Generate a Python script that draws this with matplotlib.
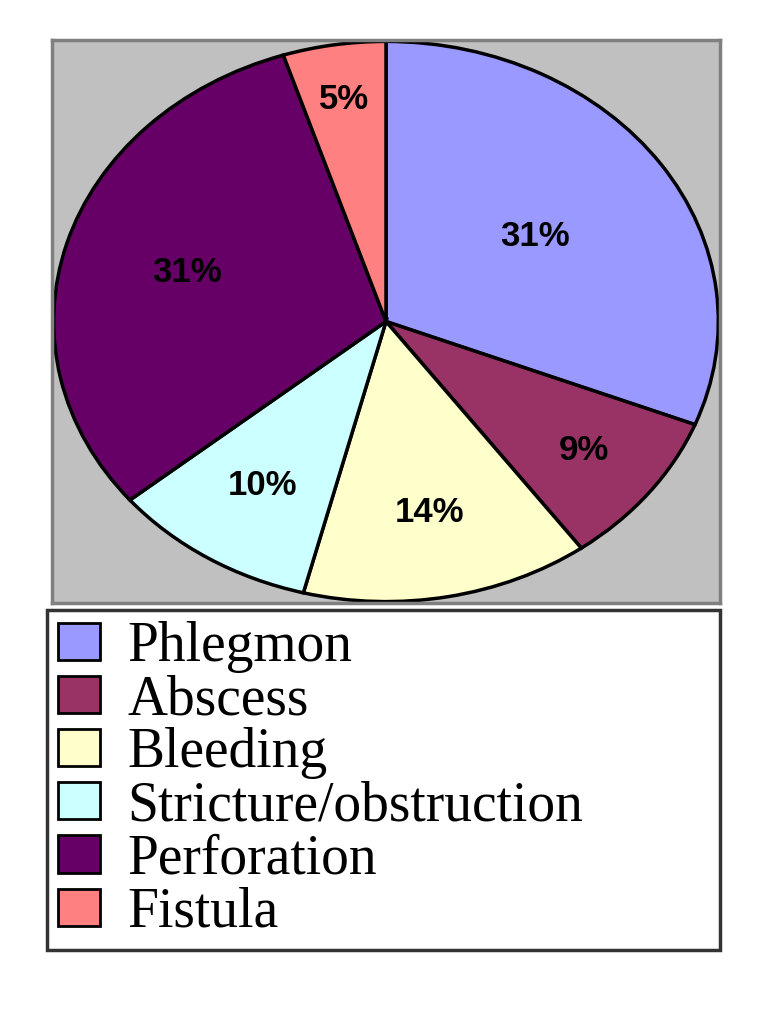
import matplotlib
matplotlib.use("Agg")
import matplotlib.pyplot as plt
import numpy as np
from matplotlib.patches import Patch

categories = ["Phlegmon", "Abscess", "Bleeding", "Stricture/obstruction", "Perforation", "Fistula"]
values = [31, 9, 14, 10, 31, 5]
colors = ["#9999ff", "#993366", "#ffffcc", "#ccffff", "#660066", "#ff8080"]
label_dist = [0.54, 0.75, 0.69, 0.69, 0.62, 0.8]

fig = plt.figure(figsize=(7.68, 10.24), dpi=100)
ax = fig.add_axes([52/768, 1-603/1024, 668/768, 563/1024])
wedges, _ = ax.pie(values, colors=colors, startangle=90, counterclock=False, radius=0.995,
                   wedgeprops=dict(edgecolor="black", linewidth=2.5))
ax.set_aspect("auto")
ax.set_xlim(-1, 1); ax.set_ylim(-1, 1)
ax.set_frame_on(True)
ax.patch.set_visible(True)
ax.set_facecolor("#c0c0c0")
ax.set_xticks([]); ax.set_yticks([])
for s in ax.spines.values():
    s.set_visible(True); s.set_edgecolor("#808080"); s.set_linewidth(2.5)
for w, v, d in zip(wedges, values, label_dist):
    a = np.deg2rad((w.theta1 + w.theta2) / 2)
    ax.text(d*np.cos(a), d*np.sin(a), f"{v}%", ha="center", va="center",
            fontsize=25, fontweight="bold", family="Liberation Sans")

handles = [Patch(facecolor=c, edgecolor="black", linewidth=2) for c in colors]
leg = fig.legend(handles, categories, loc="upper left",
                 bbox_to_anchor=(47/768, 1-987/1024, 673/768, 377/1024), mode="expand",
                 prop=dict(family="Liberation Serif", size=40), frameon=True, fancybox=False,
                 handlelength=0.75, handleheight=0.65, handletextpad=0.5, labelspacing=0.02,
                 borderpad=0.2, borderaxespad=0)
leg.get_frame().set_edgecolor("black"); leg.get_frame().set_linewidth(2.5)
fig.savefig("out.png", dpi=100)
